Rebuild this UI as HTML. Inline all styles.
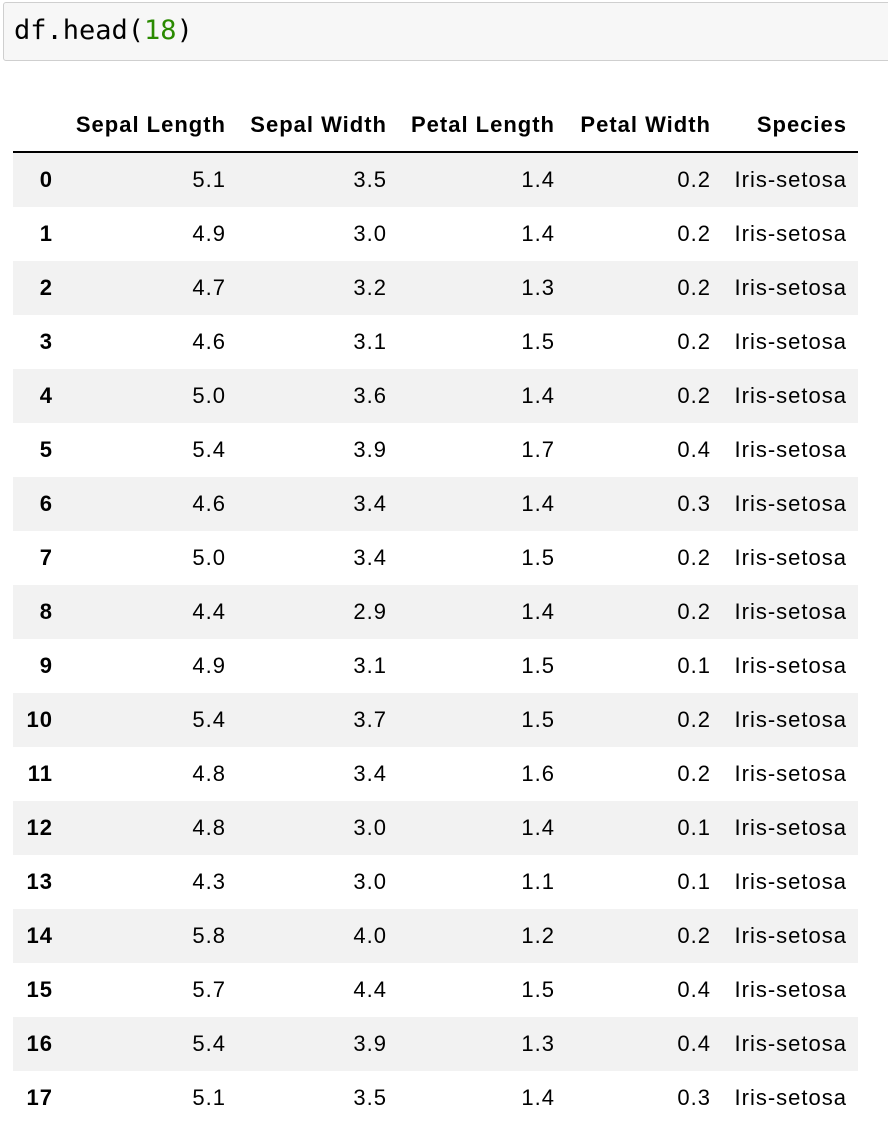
<!DOCTYPE html>
<html><head><style>
body{margin:0;width:888px;height:1140px;background:#fff;position:relative;overflow:hidden;font-family:"Liberation Sans",sans-serif;}
.inp{position:absolute;left:3px;top:2px;width:900px;height:57px;border:1px solid #cfcfcf;border-radius:3px;background:#f7f7f7;}
.code{position:absolute;left:10px;top:12px;font-family:"DejaVu Sans Mono","Liberation Mono",monospace;font-size:27px;color:#000;}
.code span{color:#2a8a00;}
.hline{position:absolute;left:13px;top:151px;width:845px;height:2px;background:#000;}
.row{position:absolute;left:13px;width:845px;height:54px;}
.c{position:absolute;font-size:22px;line-height:54px;text-align:right;color:#000;letter-spacing:1px;margin-right:-1px;}
.h{position:absolute;top:108px;font-size:22px;font-weight:bold;text-align:right;line-height:34px;letter-spacing:1px;margin-right:-1px;}
</style></head><body>
<div class="inp"><div class="code">df.head(<span>18</span>)</div></div>
<div class="h" style="right:663px">Sepal Length</div>
<div class="h" style="right:502px">Sepal Width</div>
<div class="h" style="right:334px">Petal Length</div>
<div class="h" style="right:178px">Petal Width</div>
<div class="h" style="right:42px">Species</div>
<div class="hline"></div>
<div id="t"></div>
<script>
(function(){
var d=[[5.1,3.5,1.4,0.2],[4.9,"3.0",1.4,0.2],[4.7,3.2,1.3,0.2],[4.6,3.1,1.5,0.2],["5.0",3.6,1.4,0.2],[5.4,3.9,1.7,0.4],[4.6,3.4,1.4,0.3],["5.0",3.4,1.5,0.2],[4.4,2.9,1.4,0.2],[4.9,3.1,1.5,0.1],[5.4,3.7,1.5,0.2],[4.8,3.4,1.6,0.2],[4.8,"3.0",1.4,0.1],[4.3,"3.0",1.1,0.1],[5.8,"4.0",1.2,0.2],[5.7,4.4,1.5,0.4],[5.4,3.9,1.3,0.4],[5.1,3.5,1.4,0.3]];
var rights=[663,502,334,178];var h="";
for(var i=0;i<18;i++){var yy=153+i*54;
h+='<div class="row" style="top:'+yy+'px;background:'+(i%2==0?'#f2f2f2':'#fff')+'"></div>';
h+='<div class="c" style="top:'+yy+'px;right:836px;font-weight:bold">'+i+'</div>';
for(var j=0;j<4;j++)h+='<div class="c" style="top:'+yy+'px;right:'+rights[j]+'px">'+d[i][j]+'</div>';
h+='<div class="c" style="top:'+yy+'px;right:42px">Iris-setosa</div>';}
document.getElementById("t").innerHTML=h;
})();
</script>
</body></html>
